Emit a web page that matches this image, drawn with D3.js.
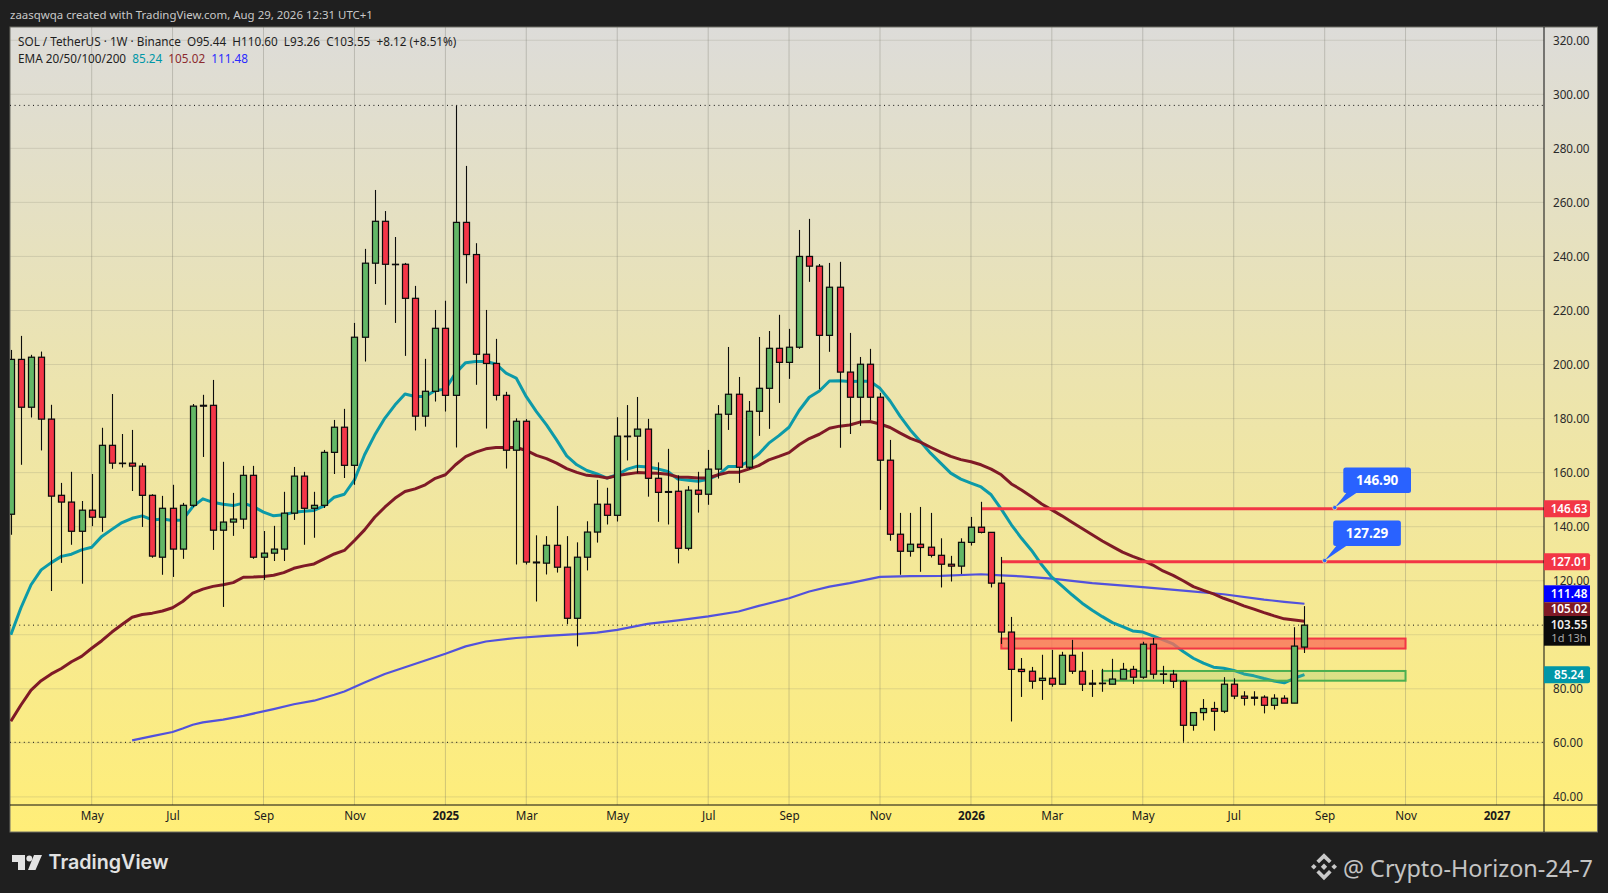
<!DOCTYPE html>
<html><head><meta charset="utf-8">
<script src="https://cdn.jsdelivr.net/npm/d3@7"></script>
<style>
html,body{margin:0;padding:0;background:#1f1f1f;overflow:hidden}
svg{display:block}
text{font-family:"Noto Sans",sans-serif}
</style></head><body>
<svg id="c" width="1608" height="893"></svg>
<script>
const startWeek = "2024-03-11";
const candleHigh = [205.4,210.6,203.6,204.8,185.1,156.2,160.3,149.5,159.5,176.6,189.1,174.3,175.8,163.5,152,151.4,155.5,148.8,185.4,188.8,194.3,164,152.5,162.5,162.5,138.4,140.3,152.9,162.1,160.3,152.9,168.4,179.5,183.6,215.4,242.8,264.6,256.8,247.2,237.6,229.1,202.1,220.2,223.6,295.9,273.5,244.9,220.2,209.5,189.9,180.1,179.8,136.8,136.5,147.7,136.5,134.2,142,157.3,154.4,180.5,185,188,179.9,163.8,168.8,159,155,160.3,168.4,185,206.5,195.4,186.5,210.2,212.4,218.4,213.2,249.8,253.9,237.2,237.6,238,211.7,202.8,205.8,189.5,172.1,145.1,145.1,147.3,145.1,135.7,129.2,135.7,143.6,149.2,137.9,128.8,106.6,91.4,88.1,92.6,94.4,93.7,98.1,93.7,87,87.4,91.1,89.6,88.5,97.4,98.8,88.5,87,83.2,71.4,76.2,75.2,84.3,83.9,79.1,79.1,77.6,78,77.6,102.8,110.6];
const candleOpen = [144.6,201.9,184.2,202.7,179.8,151.6,149.1,138.3,146.1,143.5,170.1,163.5,163.5,162.4,151.6,128.7,146.8,131.7,147.9,184.9,184.9,138.7,141.7,142.8,159,128.7,130.2,131.7,145,158.7,146.8,147.9,167.5,176.8,162.7,210.1,237.5,253,237.1,237.1,224.5,180.9,190.1,213.4,188.6,252.6,240.7,203.8,200.4,188.6,168.3,179,126.9,126.5,133.1,125,106.1,128.7,138,148.3,144.2,173.3,173.5,176.1,157.9,153,153.1,132,153.5,152,161.3,181.6,189,162,182.7,191.2,206,200.8,206.4,240,236.4,210.8,228.6,197.2,187.9,200.1,187.9,164.6,137.2,130.9,133.5,132.4,129.4,126.1,125.4,134.2,139.8,137.9,119.1,101,87.2,86.5,83.1,83.9,81.7,92.4,86.5,82.1,81.9,81.7,83.6,87.2,84.3,96.5,85.5,85.4,82.8,66.5,71.2,72.7,71.7,81.7,77.3,76.9,76.9,73.9,76.5,74.7,95.44];
const candleClose = [201.9,184.2,202.7,179.8,151.3,149.1,138.3,146.1,143.5,170.1,163.5,163.4,162.4,151.6,129.1,146.8,131.7,147.9,184.6,184.6,138.7,141.7,142.8,159,128.7,130.2,131.7,145,158.7,146.8,147.9,167.5,176.8,162.7,210.1,237.5,253,237.1,237,224.5,180.9,190.1,213.4,188.6,252.6,240.7,203.8,200.4,188.6,168.3,179,126.9,126.6,133.1,125,106.1,128.7,138,148.3,144.2,173.5,173.5,176.1,157.9,152.7,152.7,132,153.5,152,161.3,181.6,189,162,182.7,191.2,206,200.8,206.4,240,236.4,210.8,228.6,197.2,187.9,200.1,187.9,164.6,137.2,130.9,133.5,132.3,129.4,126.1,125.4,134.2,139.8,137.9,119.1,101,87.2,86.4,82.8,83.9,81.7,92.4,86.5,81.7,81.7,82.1,83.6,87.2,84.3,96.5,85.4,85.4,82.8,66.5,71.2,72.7,71.7,81.7,77.3,76.5,76.5,73.9,76.5,74.7,95.8,103.55];
const candleLow = [137,162.9,180.4,168.2,116.2,126.6,133.3,118.9,140.2,138.1,161.4,161.9,153.2,139.9,128.5,122.2,121.4,128.1,147.2,165.8,131.4,110.3,136.6,139.2,128.1,120.3,127.3,127.3,142.5,133.3,135.9,146.9,159.5,158,155.5,201.1,229.8,222.1,215.4,203.2,175.6,177,186.3,182.6,169.3,230,192.5,176.3,186.7,161.5,126,126,112.3,122.3,123,103.9,95.7,123.8,134.1,140.8,141.9,164.5,159.8,151.1,141.8,140.8,126.4,131.2,145.2,148.1,157.8,175.8,156.2,161.3,173.6,176.2,185.8,194.7,205.8,230.6,190.9,204.7,169.2,174.3,177.3,179.5,146.2,134.8,122.2,128.9,123.3,128.6,117.5,119.7,122.5,133,137.5,117.5,96.6,67.9,77,80,75.9,80.8,81.7,85.5,79.2,77,78.9,81.7,83.6,81.8,83.7,83.7,81.8,80.3,60.4,64.5,68.3,64.5,71,76.2,73.8,73.8,70.9,72.3,74.7,74.7,93.26];

const ema20 = [100,110,118.5,124,126.7,129,129.8,131.4,132.4,136.4,139,141.5,143.1,144,142.5,142.8,142.3,142.5,147.4,150.3,149,148.3,147.8,148.7,147.4,145.4,144,144.4,145.3,145.7,146,147.7,150.9,152,157.3,166.6,173.9,180.1,185,189.1,188.2,188.2,190.4,190.9,196.8,200.7,201.1,201.1,200.2,196.8,195,188.1,182.6,177.7,172.1,166.2,162.9,160.8,159.5,158,159.2,161.3,162.4,162.1,161.4,160.4,157.6,157.2,156.8,157.5,159.2,162.3,162.3,164.1,166.9,170.9,173.7,176.8,183,187.9,190.2,193.9,194,193.7,193.8,193.8,191.2,186.5,180.8,175.8,171.5,167.2,163.5,159.8,157.6,156.1,154.7,151.8,146.5,140.7,135.7,131.2,125.9,121.3,118.1,114.8,111.7,109.1,106.7,104.5,103,101.4,101,99.6,98.1,96.6,93.8,91.3,89.5,88,87.6,86.8,85.5,84.8,83.8,82.9,82.2,83.9,85.24];
const ema50 = [68,74,79.5,83,85.5,87.5,90,92,95,97.8,101,103.8,106.5,107.5,108,108.8,110,112.3,115.4,116.9,117.9,118.5,119.3,121.3,121.4,121.6,122,123,124.6,125.5,126.2,128.1,129.9,131.2,134.9,138.8,143.5,147.2,150.5,153,154,155.5,157.9,159.2,162.9,165.9,167.6,168.8,169.3,169.3,169.3,168.2,166.4,165.2,163.5,161.5,160.1,159,158.7,158,158.9,159.5,160,159.9,159.8,159.4,158.4,158.3,158,158,159.2,160.1,160.1,161.3,162.6,164.7,166,167.4,170.3,172.6,174.2,176.4,177.2,177.6,178.7,178.9,178,176.7,174.6,172.7,171.3,169.4,167.6,166,164.8,164,162.9,161.3,159.2,155.8,153.6,151.1,148.4,146.2,144,141.6,139.3,137,134.7,132.6,130.6,129,127.6,125.8,123.6,122,120,117.8,116.4,115.1,113.5,112.2,110.7,109.5,108.2,107,105.9,105.5,105.02];
const ema200Week = [12,14,16,17,18,19,21,23,26,28,30,32,33,35,37,39,41,43,45,47,50,53,56,58,60,63,66,69,72,74,77,79,81,83,86,89,92,96,98,100,103,107,112,116,120,124,126,128];
const ema200 = [60.9,62.5,64,65.3,66.7,67.6,68.6,70,72.5,74.3,75.6,77.8,79,82.3,85.5,88,90.5,93,95.7,97.5,98.8,99.6,100.2,100.8,101.8,104,105.3,106.8,108.6,110.7,113.5,116,117.8,119.1,121.4,121.7,121.8,122.4,122,121.6,120.8,119.1,117.6,116.3,115,113,112.2,111.48];

const gridPrices = [40,60,80,100,120,140,160,180,200,220,240,260,280,300,320];
const priceLabels = [40,60,80,120,140,160,180,200,220,240,260,280,300,320];
const monthDates = ["2024-05-06","2024-07-01","2024-09-02","2024-11-04","2025-01-06","2025-03-03","2025-05-05","2025-07-07","2025-09-01","2025-11-03","2026-01-05","2026-03-02","2026-05-04","2026-07-06","2026-09-07","2026-11-02","2027-01-04"];
const monthLabels = ["May","Jul","Sep","Nov","2025","Mar","May","Jul","Sep","Nov","2026","Mar","May","Jul","Sep","Nov","2027"];
const yearLabels = ["2025","2026","2027"];

const athPrice = 295.9, atlPrice = 60.2, lastPrice = 103.55;
const resistanceLevels = [146.63,127.01];
const resistanceStart = ["2026-01-12","2026-01-26"];
const calloutText = ["146.90","127.29"];
const calloutDate = ["2026-09-14","2026-09-07"];
const redZone = [98.6,94.9], greenZone = [86.6,83.0];
const redZoneStart = "2026-01-26", greenZoneStart = "2026-04-06", zoneEnd = "2026-11-02";

const parse = d3.utcParse("%Y-%m-%d");
const svg = d3.select("#c");
const L=10,T=27,R=1544,B=805,PR=1597.5,PB=832;

const x = d3.scaleUtc().domain([parse(monthDates[0]),parse(monthDates[monthDates.length-1])]).range([91.7,1496.5]);
const y = d3.scaleLinear().domain([40,300]).range([796.9,94.3]);
const weekDate = i => d3.utcWeek.offset(parse(startWeek),i);

const defs = svg.append("defs");
const g0 = defs.append("linearGradient").attr("id","bg").attr("x1",0).attr("x2",0).attr("y1",0).attr("y2",1);
g0.append("stop").attr("offset","0%").attr("stop-color","#dddcd9");
g0.append("stop").attr("offset","100%").attr("stop-color","#ffee78");
defs.append("clipPath").attr("id","plot").append("rect").attr("x",L).attr("y",T).attr("width",R-L).attr("height",B-T);

svg.append("rect").attr("width",1608).attr("height",893).attr("fill","#1f1f1f");
svg.append("rect").attr("x",L).attr("y",T).attr("width",PR-L).attr("height",PB-T).attr("fill","url(#bg)").attr("stroke","#6f6f66").attr("stroke-width",1);

// header
svg.append("text").attr("x",10).attr("y",19).attr("font-size",11.45).attr("fill","#c8c8c8").text("zaasqwqa created with TradingView.com, Aug 29, 2026 12:31 UTC+1");

// grid
const grid = svg.append("g");
grid.selectAll(".h").data(gridPrices).join("line").attr("x1",L).attr("x2",R).attr("y1",d=>y(d)).attr("y2",d=>y(d)).attr("stroke","rgba(120,120,105,.2)").attr("stroke-width",1);
grid.selectAll(".v").data(monthDates).join("line").attr("x1",d=>x(parse(d))).attr("x2",d=>x(parse(d))).attr("y1",T).attr("y2",B).attr("stroke","rgba(105,105,95,.3)").attr("stroke-width",1);

const plot = svg.append("g").attr("clip-path","url(#plot)");

// dotted lines
plot.selectAll(".dot").data([athPrice,atlPrice,lastPrice]).join("line").attr("x1",L).attr("x2",R).attr("y1",d=>y(d)).attr("y2",d=>y(d)).attr("stroke","#111").attr("stroke-width",1).attr("stroke-dasharray","1 3.6");

// EMAs
const weeks20 = ema20.map((_,i)=>i);
const lineOf=(wk,vals)=>d3.line().x((_,i)=>x(weekDate(wk[i]))).y((_,i)=>y(vals[i]))(vals);
plot.append("path").attr("d",lineOf(ema200Week,ema200)).attr("fill","none").attr("stroke","#5252dc").attr("stroke-width",2.2).attr("stroke-linejoin","round");
plot.append("path").attr("d",lineOf(weeks20,ema20)).attr("fill","none").attr("stroke","#0d9aa8").attr("stroke-width",3).attr("stroke-linejoin","round");
plot.append("path").attr("d",lineOf(weeks20,ema50)).attr("fill","none").attr("stroke","#7f1a26").attr("stroke-width",3).attr("stroke-linejoin","round");

// zones
const zone=(vals,start,fill,stroke)=>plot.append("rect").attr("x",x(parse(start))).attr("width",x(parse(zoneEnd))-x(parse(start))).attr("y",y(vals[0])).attr("height",y(vals[1])-y(vals[0])).attr("fill",fill).attr("stroke",stroke).attr("stroke-width",2);
zone(redZone,redZoneStart,"rgba(250,110,90,.78)","#f23645");
zone(greenZone,greenZoneStart,"rgba(120,190,120,.22)","#4caf50");

// resistance
plot.selectAll(".res").data(resistanceLevels).join("line").attr("x1",(d,i)=>x(parse(resistanceStart[i]))).attr("x2",R).attr("y1",d=>y(d)).attr("y2",d=>y(d)).attr("stroke","#f23645").attr("stroke-width",3);

// candles
const cg = plot.append("g");
candleHigh.forEach((h,i)=>{
  const cx=Math.round(x(weekDate(i)))+0.5, o=candleOpen[i], c=candleClose[i];
  const up=c>=o, t=y(Math.max(o,c)), b=y(Math.min(o,c));
  cg.append("line").attr("x1",cx).attr("x2",cx).attr("y1",y(h)).attr("y2",y(candleLow[i])).attr("stroke","#0c0c0c").attr("stroke-width",1.1);
  cg.append("rect").attr("x",cx-3).attr("width",6).attr("y",t).attr("height",Math.max(b-t,.4)).attr("fill",up?"#63b767":"#f43648").attr("stroke","#0c0c0c").attr("stroke-width",1.25);
});

// axes
const ay=d3.axisRight(y).tickValues(priceLabels).tickFormat(d3.format(".2f")).tickSize(0).tickPadding(9);
const ag=svg.append("g").attr("transform",`translate(${R},0)`).call(ay);
ag.select(".domain").remove();
ag.selectAll("text").attr("font-size",11.7).attr("fill","#2a2a2a").style("font-family",'"Noto Sans",sans-serif');
const ax=d3.axisBottom(x).tickValues(monthDates.map(parse)).tickFormat((d,i)=>monthLabels[i]).tickSize(0).tickPadding(7);
const xg=svg.append("g").attr("transform",`translate(0,${B})`).call(ax);
xg.select(".domain").remove();
xg.selectAll("text").attr("font-size",11.7).attr("fill","#1a1a1a").style("font-family",'"Noto Sans",sans-serif').attr("font-weight",function(){return yearLabels.includes(this.textContent)?700:400;});
svg.append("line").attr("x1",L).attr("x2",PR).attr("y1",B).attr("y2",B).attr("stroke","#0c0c0c");
svg.append("line").attr("x1",R).attr("x2",R).attr("y1",T).attr("y2",PB).attr("stroke","#0c0c0c");

// price tags
const tagLabels=[["146.63",146.63,"#f23645"],["127.01",127.01,"#f23645"],["85.24",85.24,"#0097a7"]];
tagLabels.forEach(([s,v,col])=>{
  svg.append("path").attr("d",`M${R} ${y(v)-8.5}h44a2 2 0 0 1 2 2v13a2 2 0 0 1-2 2h-44z`).attr("fill",col);
  svg.append("text").attr("x",R+25).attr("y",y(v)+4.3).attr("text-anchor","middle").attr("font-size",11.7).attr("font-weight",600).attr("fill","#fff").text(s);
});
const stack=[["111.48",111.48,"#0000ff",585.3,17],["105.02",105.02,"#7f1a26",602.3,13.7]];
stack.forEach(([s,v,col,ty,h])=>{
  svg.append("rect").attr("x",R).attr("y",ty).attr("width",46).attr("height",h).attr("fill",col);
  svg.append("text").attr("x",R+25).attr("y",ty+h/2+4.3).attr("text-anchor","middle").attr("font-size",11.7).attr("font-weight",600).attr("fill","#fff").text(s);
});
svg.append("rect").attr("x",R).attr("y",616).attr("width",46).attr("height",29.7).attr("fill","#0b0b0b");
svg.append("text").attr("x",R+25).attr("y",629.2).attr("text-anchor","middle").attr("font-size",11.7).attr("font-weight",600).attr("fill","#eee").text(lastPrice.toFixed(2));
svg.append("text").attr("x",R+25).attr("y",642).attr("text-anchor","middle").attr("font-size",11).attr("fill","#a8a8a8").text("1d 13h");

// callouts
calloutText.forEach((s,i)=>{
  const px=x(parse(calloutDate[i])), py=y(resistanceLevels[i])-1.2;
  const bx=px+8.5, by=py-40, bw=67.7, bh=25.5;
  svg.append("path").attr("fill","#2962ff").attr("d",`M${bx+2.5} ${by}h${bw-5}a2.5 2.5 0 0 1 2.5 2.5v${bh-5}a2.5 2.5 0 0 1-2.5 2.5H${bx+13}L${px} ${py}L${bx+3} ${by+bh}h-0.5a2.5 2.5 0 0 1-2.5-2.5v-${bh-5}a2.5 2.5 0 0 1 2.5-2.5z`);
  svg.append("text").attr("x",bx+bw/2).attr("y",by+17.5).attr("text-anchor","middle").attr("font-size",13.5).attr("font-weight",700).attr("fill","#fff").text(s);
  svg.append("circle").attr("cx",px).attr("cy",py).attr("r",2.2).attr("fill","#2962ff").attr("stroke","#f5e98a").attr("stroke-width",.8);
});

// legend
svg.append("text").attr("x",18).attr("y",46).attr("font-size",11.75).attr("fill","#1e1e1e").attr("xml:space","preserve").text("SOL / TetherUS · 1W · Binance  O95.44  H110.60  L93.26  C103.55  +8.12 (+8.51%)");
const lg=svg.append("text").attr("x",18).attr("y",63).attr("font-size",11.75).attr("fill","#1e1e1e").attr("xml:space","preserve");
lg.append("tspan").text("EMA 20/50/100/200  ");
lg.append("tspan").attr("fill","#0097a7").text("85.24  ");
lg.append("tspan").attr("fill","#8c2a2f").text("105.02  ");
lg.append("tspan").attr("fill","#2a2aff").text("111.48");

// footer logo
const logo=svg.append("g").attr("fill","#e2e2e2");
logo.append("path").attr("d","M12 855h13v15h-7v-8h-6z");
logo.append("circle").attr("cx",29.3).attr("cy",858.5).attr("r",2.9);
logo.append("path").attr("d","M34 855h8l-6.5 15h-7.5z");
svg.append("text").attr("x",48.5).attr("y",869).attr("font-size",19.7).attr("font-weight",600).attr("fill","#e2e2e2").style("font-family","Inter,sans-serif").text("TradingView");

// watermark
const bn=svg.append("g").attr("fill","#c9c9c9").attr("transform","translate(1324,866.7)");
bn.append("path").attr("d","M0-3.2L3.2 0 0 3.2-3.2 0z");
bn.append("path").attr("d","M-13 0l2.8-2.8L-7.4 0-10.2 2.8z");
bn.append("path").attr("d","M13 0l-2.8-2.8L7.4 0 10.2 2.8z");
bn.append("path").attr("d","M0-13.5L7.6-5.9 5-3.4 0-8.3-5-3.4-7.6-5.9z");
bn.append("path").attr("d","M0 13.5L7.6 5.9 5 3.4 0 8.3-5 3.4-7.6 5.9z");
svg.append("text").attr("x",1343).attr("y",876.5).attr("font-size",23.4).attr("fill","#c4c4c4").text("@ Crypto-Horizon-24-7");
</script></body></html>
